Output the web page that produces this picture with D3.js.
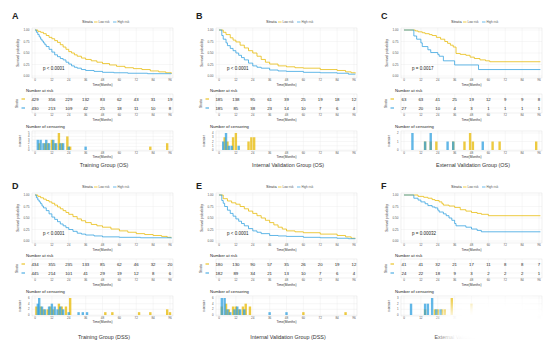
<!DOCTYPE html>
<html><head><meta charset="utf-8">
<script src="https://d3js.org/d3.v7.min.js"></script>
<style>
  body { margin: 0; background: #fff; }
  svg text { font-family: "Liberation Sans", Arial, sans-serif; }
  .grid line { stroke: #ececec; stroke-width: 0.4; }
</style>
</head>
<body>
<svg id="fig" width="554" height="348"></svg>
<script>
// ---- shared axis values
const timeTicks = [0, 12, 24, 36, 48, 60, 72, 84, 96];
const survTicks = [0, 0.25, 0.5, 0.75, 1];
const strata = ["Low risk", "High risk"];
const colors = ["#E7B800", "#2E9FDF"];

const letters = ["A", "B", "C", "D", "E", "F"];
const captions = ["Training Group  (OS)", "Internal Validation Group  (OS)", "External Validation Group  (OS)",
                  "Training Group  (DSS)", "Internal Validation Group  (DSS)", "External Validation Group  (DSS)"];
const pValues = ["p < 0.0001", "p < 0.0001", "p = 0.0017", "p < 0.0001", "p < 0.0001", "p = 0.00032"];

// ---- KM steps [months, survival]
const kmA_low = [[0,1],[2,0.97],[4,0.95],[6,0.92],[8,0.88],[10,0.84],[12,0.81],[14,0.77],[16,0.73],[18,0.68],[20,0.63],[22,0.58],[24,0.53],[26,0.5],[28,0.46],[30,0.43],[33,0.39],[36,0.36],[40,0.33],[44,0.3],[48,0.27],[53,0.24],[58,0.21],[64,0.18],[70,0.16],[76,0.14],[82,0.11],[88,0.09],[93,0.07],[97,0.05]];
const kmA_high = [[0,1],[1,0.95],[2,0.9],[3,0.85],[4,0.8],[5,0.76],[6,0.72],[7,0.68],[8,0.64],[10,0.58],[12,0.52],[14,0.46],[16,0.42],[18,0.38],[20,0.35],[22,0.3],[24,0.26],[26,0.22],[28,0.19],[30,0.17],[33,0.14],[36,0.12],[42,0.1],[48,0.08],[56,0.07],[66,0.06],[80,0.05],[97,0.05]];
const kmB_low = [[0,1],[3,0.95],[5,0.9],[8,0.83],[10,0.78],[12,0.74],[15,0.67],[18,0.61],[21,0.55],[24,0.5],[27,0.43],[30,0.36],[33,0.3],[36,0.26],[42,0.22],[48,0.2],[54,0.18],[60,0.17],[72,0.14],[84,0.12],[90,0.09],[94,0.07],[97,0.06]];
const kmB_high = [[0,1],[2,0.88],[3,0.8],[5,0.72],[6,0.66],[8,0.6],[10,0.55],[12,0.5],[14,0.45],[16,0.4],[18,0.35],[21,0.28],[24,0.22],[27,0.19],[30,0.17],[36,0.13],[42,0.11],[48,0.1],[60,0.08],[72,0.07],[84,0.06],[92,0.04],[97,0.04]];
const kmC_low = [[0,1],[8,0.98],[10,0.96],[13,0.94],[15,0.92],[18,0.9],[20,0.88],[23,0.84],[26,0.8],[29,0.75],[31,0.71],[33,0.67],[35,0.63],[37,0.49],[40,0.47],[44,0.45],[47,0.41],[50,0.38],[54,0.35],[58,0.33],[61,0.31],[97,0.31]];
const kmC_high = [[0,1],[7,0.87],[9,0.8],[12,0.72],[13,0.64],[17,0.57],[19,0.51],[24,0.47],[25,0.43],[28,0.33],[36,0.24],[53,0.14],[97,0.14]];
const kmD_low = [[0,1],[2,0.97],[4,0.94],[6,0.91],[8,0.88],[10,0.85],[12,0.82],[14,0.78],[16,0.74],[18,0.7],[20,0.66],[22,0.62],[24,0.58],[27,0.53],[30,0.48],[33,0.44],[36,0.4],[40,0.36],[44,0.33],[48,0.3],[54,0.26],[60,0.22],[66,0.19],[72,0.16],[78,0.14],[84,0.12],[90,0.1],[94,0.08],[97,0.08]];
const kmD_high = [[0,1],[1,0.94],[2,0.89],[3,0.85],[4,0.81],[5,0.76],[6,0.72],[8,0.66],[10,0.59],[12,0.52],[14,0.47],[16,0.42],[18,0.37],[20,0.33],[22,0.29],[24,0.25],[27,0.21],[30,0.17],[33,0.15],[36,0.13],[42,0.11],[48,0.09],[60,0.08],[75,0.07],[97,0.06]];
const kmE_low = [[0,1],[3,0.92],[6,0.87],[9,0.83],[12,0.8],[15,0.75],[18,0.7],[21,0.65],[24,0.6],[27,0.55],[30,0.5],[33,0.45],[36,0.4],[39,0.35],[42,0.3],[45,0.26],[48,0.22],[54,0.2],[60,0.18],[72,0.15],[84,0.12],[90,0.09],[94,0.06],[97,0.06]];
const kmE_high = [[0,1],[2,0.88],[3,0.82],[4,0.75],[6,0.67],[8,0.6],[10,0.54],[12,0.48],[14,0.43],[16,0.38],[18,0.33],[21,0.27],[24,0.22],[27,0.19],[30,0.16],[36,0.12],[42,0.11],[48,0.1],[60,0.08],[72,0.07],[84,0.06],[92,0.05],[97,0.05]];
const kmF_low = [[0,1],[10,0.97],[14,0.95],[17,0.93],[20,0.9],[22,0.88],[25,0.85],[27,0.81],[28,0.78],[32,0.76],[36,0.73],[40,0.68],[44,0.65],[48,0.62],[52,0.6],[55,0.58],[60,0.55],[97,0.55]];
const kmF_high = [[0,1],[7,0.93],[10,0.89],[12,0.85],[15,0.81],[17,0.77],[20,0.74],[22,0.72],[24,0.67],[25,0.63],[28,0.59],[30,0.55],[32,0.5],[34,0.45],[36,0.38],[37,0.33],[44,0.3],[48,0.26],[52,0.23],[55,0.2],[97,0.2]];

// ---- number at risk at each time tick
const riskA_low = [429, 356, 229, 132, 83, 62, 43, 31, 19];
const riskA_high = [430, 213, 109, 42, 25, 18, 11, 10, 8];
const riskB_low = [185, 138, 95, 61, 39, 25, 19, 18, 12];
const riskB_high = [185, 85, 38, 23, 14, 10, 7, 6, 4];
const riskC_low = [63, 63, 41, 25, 19, 12, 9, 9, 8];
const riskC_high = [27, 20, 10, 4, 3, 1, 1, 1, 1];
const riskD_low = [434, 355, 235, 133, 85, 62, 46, 32, 20];
const riskD_high = [445, 214, 101, 41, 29, 19, 12, 8, 6];
const riskE_low = [180, 130, 90, 57, 35, 26, 20, 19, 12];
const riskE_high = [182, 89, 34, 21, 13, 10, 7, 6, 4];
const riskF_low = [41, 41, 32, 21, 17, 11, 8, 8, 7];
const riskF_high = [24, 22, 18, 9, 3, 2, 2, 2, 1];

// ---- censoring counts [months, n]
const censA_low = [[3,2],[7,2],[9,2],[12,3],[14,2],[17,5],[19,2],[23,4],[25,1],[82,1],[94,2]];
const censA_high = [[2,3],[4,3],[6,2],[8,3],[10,2],[13,3],[15,2],[18,2],[20,2],[24,1],[36,1]];
const censB_low = [[4,3],[6,2],[10,3],[12,4],[21,2],[23,3],[25,3]];
const censB_high = [[3,2],[5,4],[7,1],[9,1],[14,1]];
const censC_low = [[15,1],[19,1],[23,1],[35,1],[43,1],[47,2],[49,1],[63,1],[68,1],[94,1]];
const censC_high = [[6,2],[15,1],[19,2],[31,1],[35,1],[56,1]];
const censD_low = [[1,3],[4,3],[6,2],[9,2],[11,3],[13,2],[17,4],[19,3],[22,3],[25,6],[50,1],[55,1],[74,1],[82,1],[94,2],[96,1]];
const censD_high = [[2,4],[3,6],[5,3],[7,2],[10,3],[12,4],[14,3],[16,2],[18,3],[20,2],[24,1],[31,1],[34,1],[37,1]];
const censE_low = [[2,3],[5,4],[7,2],[10,3],[12,3],[14,2],[17,3],[19,4],[22,3],[60,1],[90,1]];
const censE_high = [[2,6],[4,6],[6,2],[8,1],[11,2],[13,3],[15,2],[18,2],[36,1],[48,1]];
const censF_low = [[15,1],[22,1],[24,1],[27,1],[29,1],[34,3],[48,2]];
const censF_high = [[5,2],[15,2],[17,2],[20,3],[23,1],[26,1]];

const panels = [
  {km: [kmA_low, kmA_high], risk: [riskA_low, riskA_high], cens: [censA_low, censA_high]},
  {km: [kmB_low, kmB_high], risk: [riskB_low, riskB_high], cens: [censB_low, censB_high]},
  {km: [kmC_low, kmC_high], risk: [riskC_low, riskC_high], cens: [censC_low, censC_high]},
  {km: [kmD_low, kmD_high], risk: [riskD_low, riskD_high], cens: [censD_low, censD_high]},
  {km: [kmE_low, kmE_high], risk: [riskE_low, riskE_high], cens: [censE_low, censE_high]},
  {km: [kmF_low, kmF_high], risk: [riskF_low, riskF_high], cens: [censF_low, censF_high]}
];

const svg = d3.select("#fig");
const colX = [0, 184, 369];
const rowY = [0, 165];
const tickFont = 3.1, titleFont = 3.3;

function frame(g, x0, x1, y0, y1) {
  g.append("rect").attr("x", x0).attr("y", y0).attr("width", x1 - x0).attr("height", y1 - y0)
    .attr("fill", "none").attr("stroke", "#d9d9d9").attr("stroke-width", 0.4);
}

function timeAxis(g, x, yTop, yBot, yLab) {
  const grid = g.append("g").attr("class", "grid");
  timeTicks.forEach(t => {
    grid.append("line").attr("x1", x(t)).attr("x2", x(t)).attr("y1", yTop).attr("y2", yBot);
    g.append("text").attr("x", x(t)).attr("y", yBot + 3.3).attr("text-anchor", "middle")
      .attr("font-size", tickFont).attr("fill", "#555").text(t);
  });
  g.append("text").attr("x", (x.range()[0] + x.range()[1]) / 2).attr("y", yLab)
    .attr("text-anchor", "middle").attr("font-size", titleFont).attr("fill", "#333").text("Time(Months)");
}

function drawPanel(p, i) {
  const col = i % 3, row = Math.floor(i / 3);
  const g = svg.append("g").attr("transform", `translate(${colX[col]},${rowY[row]})`);
  const x = d3.scaleLinear().domain([0, 96]).range([35, 170]);
  const left = 32, right = 173;

  // panel letter
  g.append("text").attr("x", 12).attr("y", row === 0 ? 19 : 23.5).attr("font-size", 9)
    .attr("font-weight", "bold").attr("fill", "#222").text(letters[i]);

  // legend
  const lg = g.append("g").attr("transform", "translate(82,22)");
  lg.append("text").attr("x", 0).attr("y", 1.3).attr("font-size", 4).attr("fill", "#333").text("Strata");
  let lx = 12;
  strata.forEach((s, k) => {
    lg.append("line").attr("x1", lx).attr("x2", lx + 3.5).attr("y1", 0).attr("y2", 0)
      .attr("stroke", colors[k]).attr("stroke-width", 0.7);
    lg.append("text").attr("x", lx + 4.5).attr("y", 1.1).attr("font-size", 3).attr("fill", "#555").text(s);
    lx += 19;
  });

  // survival curves
  const yS = d3.scaleLinear().domain([0, 1]).range([76, 30]);
  const grid = g.append("g").attr("class", "grid");
  survTicks.forEach(v => {
    grid.append("line").attr("x1", left).attr("x2", right).attr("y1", yS(v)).attr("y2", yS(v));
    g.append("text").attr("x", 29.5).attr("y", yS(v) + 1.1).attr("text-anchor", "end")
      .attr("font-size", tickFont).attr("fill", "#555").text(d3.format(".2f")(v));
  });
  timeAxis(g, x, 28, 78, 86);
  frame(g, left, right, 28, 78);
  g.append("text").attr("transform", `translate(19,53) rotate(-90)`).attr("text-anchor", "middle")
    .attr("font-size", titleFont).attr("fill", "#333").text("Survival probability");

  const line = d3.line().x(d => x(d[0])).y(d => yS(d[1])).curve(d3.curveStepAfter);
  p.km.forEach((steps, k) => {
    g.append("path").attr("d", line(steps)).attr("fill", "none")
      .attr("stroke", colors[k]).attr("stroke-width", 0.75);
  });
  g.append("text").attr("x", 43).attr("y", 69.5).attr("font-size", 4.5).attr("fill", "#222").text(pValues[i]);

  // number at risk table
  g.append("text").attr("x", 26).attr("y", 91.5).attr("font-size", 4.2).attr("fill", "#222").text("Number at risk");
  const rowPos = [99, 108];
  const tg = g.append("g").attr("class", "grid");
  timeAxis(g, x, 94, 113, 120.5);
  frame(g, left, right, 94, 113);
  p.risk.forEach((vals, k) => {
    tg.append("line").attr("x1", left).attr("x2", right).attr("y1", rowPos[k]).attr("y2", rowPos[k]);
    g.append("line").attr("x1", 21.5).attr("x2", 25).attr("y1", rowPos[k]).attr("y2", rowPos[k])
      .attr("stroke", colors[k]).attr("stroke-width", 1);
    vals.forEach((v, j) => {
      g.append("text").attr("x", x(timeTicks[j])).attr("y", rowPos[k] + 1.5).attr("text-anchor", "middle")
        .attr("font-size", 4.3).attr("fill", "#222").text(v);
    });
  });
  g.append("text").attr("transform", `translate(18,103.5) rotate(-90)`).attr("text-anchor", "middle")
    .attr("font-size", titleFont).attr("fill", "#333").text("Strata");

  // number of censoring
  g.append("text").attr("x", 26).attr("y", 128).attr("font-size", 4.2).attr("fill", "#222").text("Number of censoring");
  const maxN = d3.max(p.cens.flat(), d => d[1]);
  const yC = d3.scaleLinear().domain([0, maxN]).range([150, 133]);
  const cg = g.append("g").attr("class", "grid");
  yC.ticks(Math.min(maxN, 4)).forEach(v => {
    cg.append("line").attr("x1", left).attr("x2", right).attr("y1", yC(v)).attr("y2", yC(v));
    g.append("text").attr("x", 29.5).attr("y", yC(v) + 1).attr("text-anchor", "end")
      .attr("font-size", 2.8).attr("fill", "#555").text(v);
  });
  timeAxis(g, x, 131, 151, 158);
  frame(g, left, right, 131, 151);
  g.append("text").attr("transform", `translate(21,141) rotate(-90)`).attr("text-anchor", "middle")
    .attr("font-size", 3).attr("fill", "#333").text("n.censor");
  const barW = 2.4;
  p.cens.forEach((pts, k) => {
    g.append("g").selectAll("rect").data(pts).join("rect")
      .attr("x", d => x(d[0]) - barW / 2).attr("width", barW)
      .attr("y", d => yC(d[1])).attr("height", d => yC(0) - yC(d[1]))
      .attr("fill", colors[k]).attr("opacity", 0.75);
  });

  // caption
  g.append("text").attr("x", 104).attr("y", row === 0 ? 166.5 : 173.5).attr("text-anchor", "middle")
    .attr("font-size", 5.4).attr("fill", "#333").text(captions[i]);
}

panels.forEach(drawPanel);

// soft white haze over the lower right corner
const defs = svg.append("defs");
defs.append("filter").attr("id", "haze").attr("x", "-50%").attr("y", "-50%").attr("width", "200%").attr("height", "200%")
  .append("feGaussianBlur").attr("stdDeviation", 7);
svg.append("ellipse").attr("cx", 500).attr("cy", 327).attr("rx", 62).attr("ry", 30)
  .attr("fill", "#fff").attr("filter", "url(#haze)");
</script>
</body>
</html>
